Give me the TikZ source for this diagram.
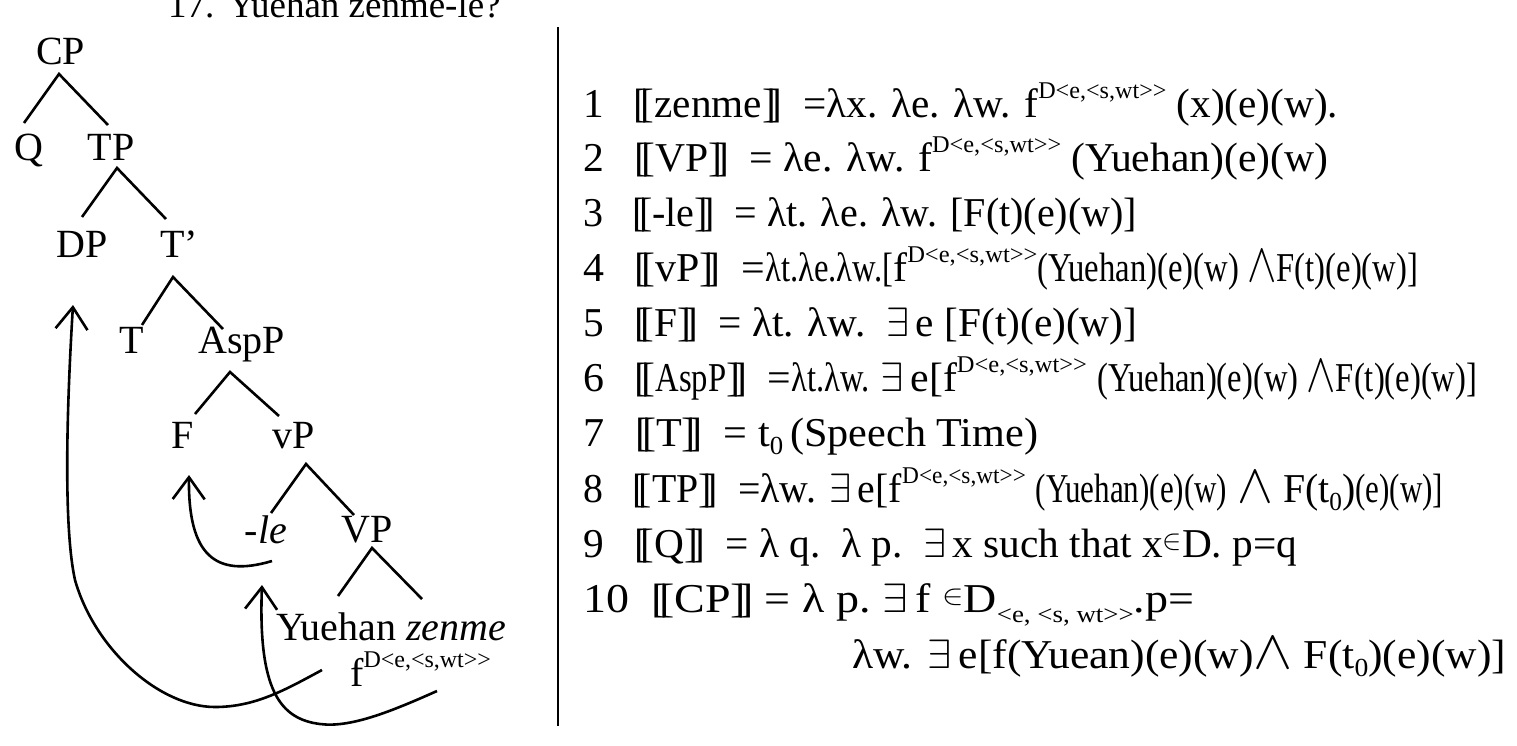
\RequirePackage{fix-cm}
\documentclass[tikz,border=0pt]{standalone}
\usepackage{fontspec}
\setmainfont{Liberation Serif}
\usetikzlibrary{arrows.meta}
\newcommand\dlb{[\kern-0.17em[}
\newcommand\drb{]\kern-0.17em]}
\newcommand\semb[1]{\dlb#1\drb}
\newcommand\fD{f\raisebox{0.46em}{\fontsize{24}{24}\selectfont D<e,<s,wt>{}>}}
\newcommand\cnd[1]{\scalebox{0.78}[1]{#1}}
\newcommand\ex{$\exists$}
\newcommand\wedg{\scalebox{1.35}{$\wedge$}}
\newcommand\inn{\raisebox{0.18em}{\scalebox{0.7}{$\in$}}}
\newcommand\zsub{\raisebox{-0.2em}{\fontsize{26}{26}\selectfont 0}}
\begin{document}
\begin{tikzpicture}[x=1pt,y=-1pt,
  tn/.style={inner sep=0pt,anchor=base,font=\fontsize{40}{48}\selectfont},
  rl/.style={inner sep=0pt,anchor=base west,font=\fontsize{41}{49}\selectfont},
  br/.style={line width=2.6pt},
  arr/.style={line width=2.6pt,-{Straight Barb[length=22pt,width=32pt]}}]
\useasboundingbox (0,0) rectangle (1517,745);
\clip (0,0) rectangle (1517,745);
% title
\node[inner sep=0pt,anchor=base west,font=\fontsize{37}{44}\selectfont] (title) at (168,17) {17.\hspace{14pt}Yuehan zenme-le?};
% tree nodes
\node[tn] (CP) at (60.5,64) {CP};
\node[tn] (Q) at (29,160) {Q};
\node[tn] (TP) at (111,160) {TP};
\node[tn] (DP) at (82.5,257) {DP};
\node[tn] (Tbar) at (179,257) {T’};
\node[tn] (T) at (131.5,353) {T};
\node[tn] (AspP) at (241.5,353) {AspP};
\node[tn] (F) at (182.5,448) {F};
\node[tn] (vP) at (294,448) {vP};
\node[tn] (le) at (266,543) {-\textit{le}};
\node[tn] (VP) at (367.5,542) {VP};
\node[tn] (YZ) at (391,640) {Yuehan \textit{zenme}};
\node[inner sep=0pt,anchor=base west,font=\fontsize{40}{48}\selectfont] (fD) at (350,686) {\fD};
% branch coordinates
\coordinate (cpA) at (59,74); \coordinate (cpL) at (24,123); \coordinate (cpR) at (108,125);
\coordinate (tpA) at (117,168); \coordinate (tpL) at (82,217); \coordinate (tpR) at (166,219);
\coordinate (tbA) at (173,277); \coordinate (tbL) at (142,325); \coordinate (tbR) at (223,329);
\coordinate (asA) at (230,372); \coordinate (asL) at (195,414); \coordinate (asR) at (279,416);
\coordinate (vpA) at (306,464); \coordinate (vpL) at (271,513); \coordinate (vpR) at (354,515);
\coordinate (VpA) at (372,548); \coordinate (VpL) at (338,596); \coordinate (VpR) at (422,599);
\draw[br] (cpL) -- (cpA) -- (cpR);
\draw[br] (tpL) -- (tpA) -- (tpR);
\draw[br] (tbL) -- (tbA) -- (tbR);
\draw[br] (asL) -- (asA) -- (asR);
\draw[br] (vpL) -- (vpA) -- (vpR);
\draw[br] (VpL) -- (VpA) -- (VpR);
% movement arrows
\coordinate (dS) at (322,670); \coordinate (dT) at (73,305);
\coordinate (fS) at (272,561); \coordinate (fT) at (189,475);
\coordinate (lS) at (437,691); \coordinate (lT) at (262,585);
\draw[arr] (dS) .. controls (285,690) and (255,707) .. (215,707)
  .. controls (160,707) and (95,650) .. (75,580)
  .. controls (64,530) and (66,420) .. (dT);
\draw[arr] (fS) .. controls (215,578) and (188,555) .. (fT);
\draw[arr] (lS) .. controls (390,712) and (350,728) .. (320,724)
  .. controls (280,719) and (258,690) .. (lT);
% divider
\coordinate (vT) at (558,27); \coordinate (vB) at (558,726);
\draw[line width=2.5pt] (vT) -- (vB);
% right side
\node[rl] (l1) at (583,117) {\resizebox{755pt}{\height}{1\hspace{30pt}\semb{zenme}\ \ =λx. λe. λw. \fD\ (x)(e)(w).}};
\node[rl] (l2) at (583,171) {\resizebox{745pt}{\height}{2\hspace{30pt}\semb{VP}\ \ = λe. λw. \fD\ (Yuehan)(e)(w)}};
\node[rl] (l3) at (583,226) {\resizebox{554pt}{\height}{3\hspace{30pt}\semb{-le}\ \ = λt. λe. λw. [F(t)(e)(w)]}};
\node[rl] (l4) at (583,281) {\resizebox{835pt}{\height}{4\hspace{30pt}\semb{vP}\ \ =\cnd{λt.λe.λw.[}\fD\cnd{(Yuehan)(e)(w) \wedg F(t)(e)(w)]}}};
\node[rl] (l5) at (583,336) {\resizebox{554pt}{\height}{5\hspace{30pt}\semb{F}\ \ = λt. λw.\ \ \ex\,e [F(t)(e)(w)]}};
\node[rl] (l6) at (583,391) {\resizebox{894pt}{\height}{6\hspace{30pt}\semb{\cnd{AspP}}\ \ =\cnd{λt.λw.} \ex\,e[\fD\ \cnd{(Yuehan)(e)(w) \wedg F(t)(e)(w)]}}};
\node[rl] (l7) at (583,446) {\resizebox{455pt}{\height}{7\hspace{30pt}\semb{T}\ \ = t\zsub\,(Speech Time)}};
\node[rl] (l8) at (583,502) {\resizebox{860pt}{\height}{8\hspace{30pt}\semb{TP}\ \ =λw. \ex\,e[\fD\ \cnd{(Yuehan)(e)(w)} \wedg\ F(t\zsub)\cnd{(e)(w)]}}};
\node[rl] (l9) at (583,557) {\resizebox{714pt}{\height}{9\hspace{30pt}\semb{Q}\ \ = λ q.\ \ λ p.\ \ \ex\,x such that x\inn D. p=q}};
\node[rl] (l10) at (583,612) {\resizebox{611pt}{\height}{10\hspace{20pt}\semb{CP}\ = λ p.\ \ex\,f \inn D\raisebox{-0.25em}{\fontsize{24}{24}\selectfont <e, <s, wt>{}>}.p=}};
\node[rl] (l11) at (852,668) {\resizebox{654pt}{\height}{λw. \ex\,e[f(Yuean)(e)(w)\wedg\ F(t\zsub)(e)(w)]}};
\end{tikzpicture}
\end{document}
